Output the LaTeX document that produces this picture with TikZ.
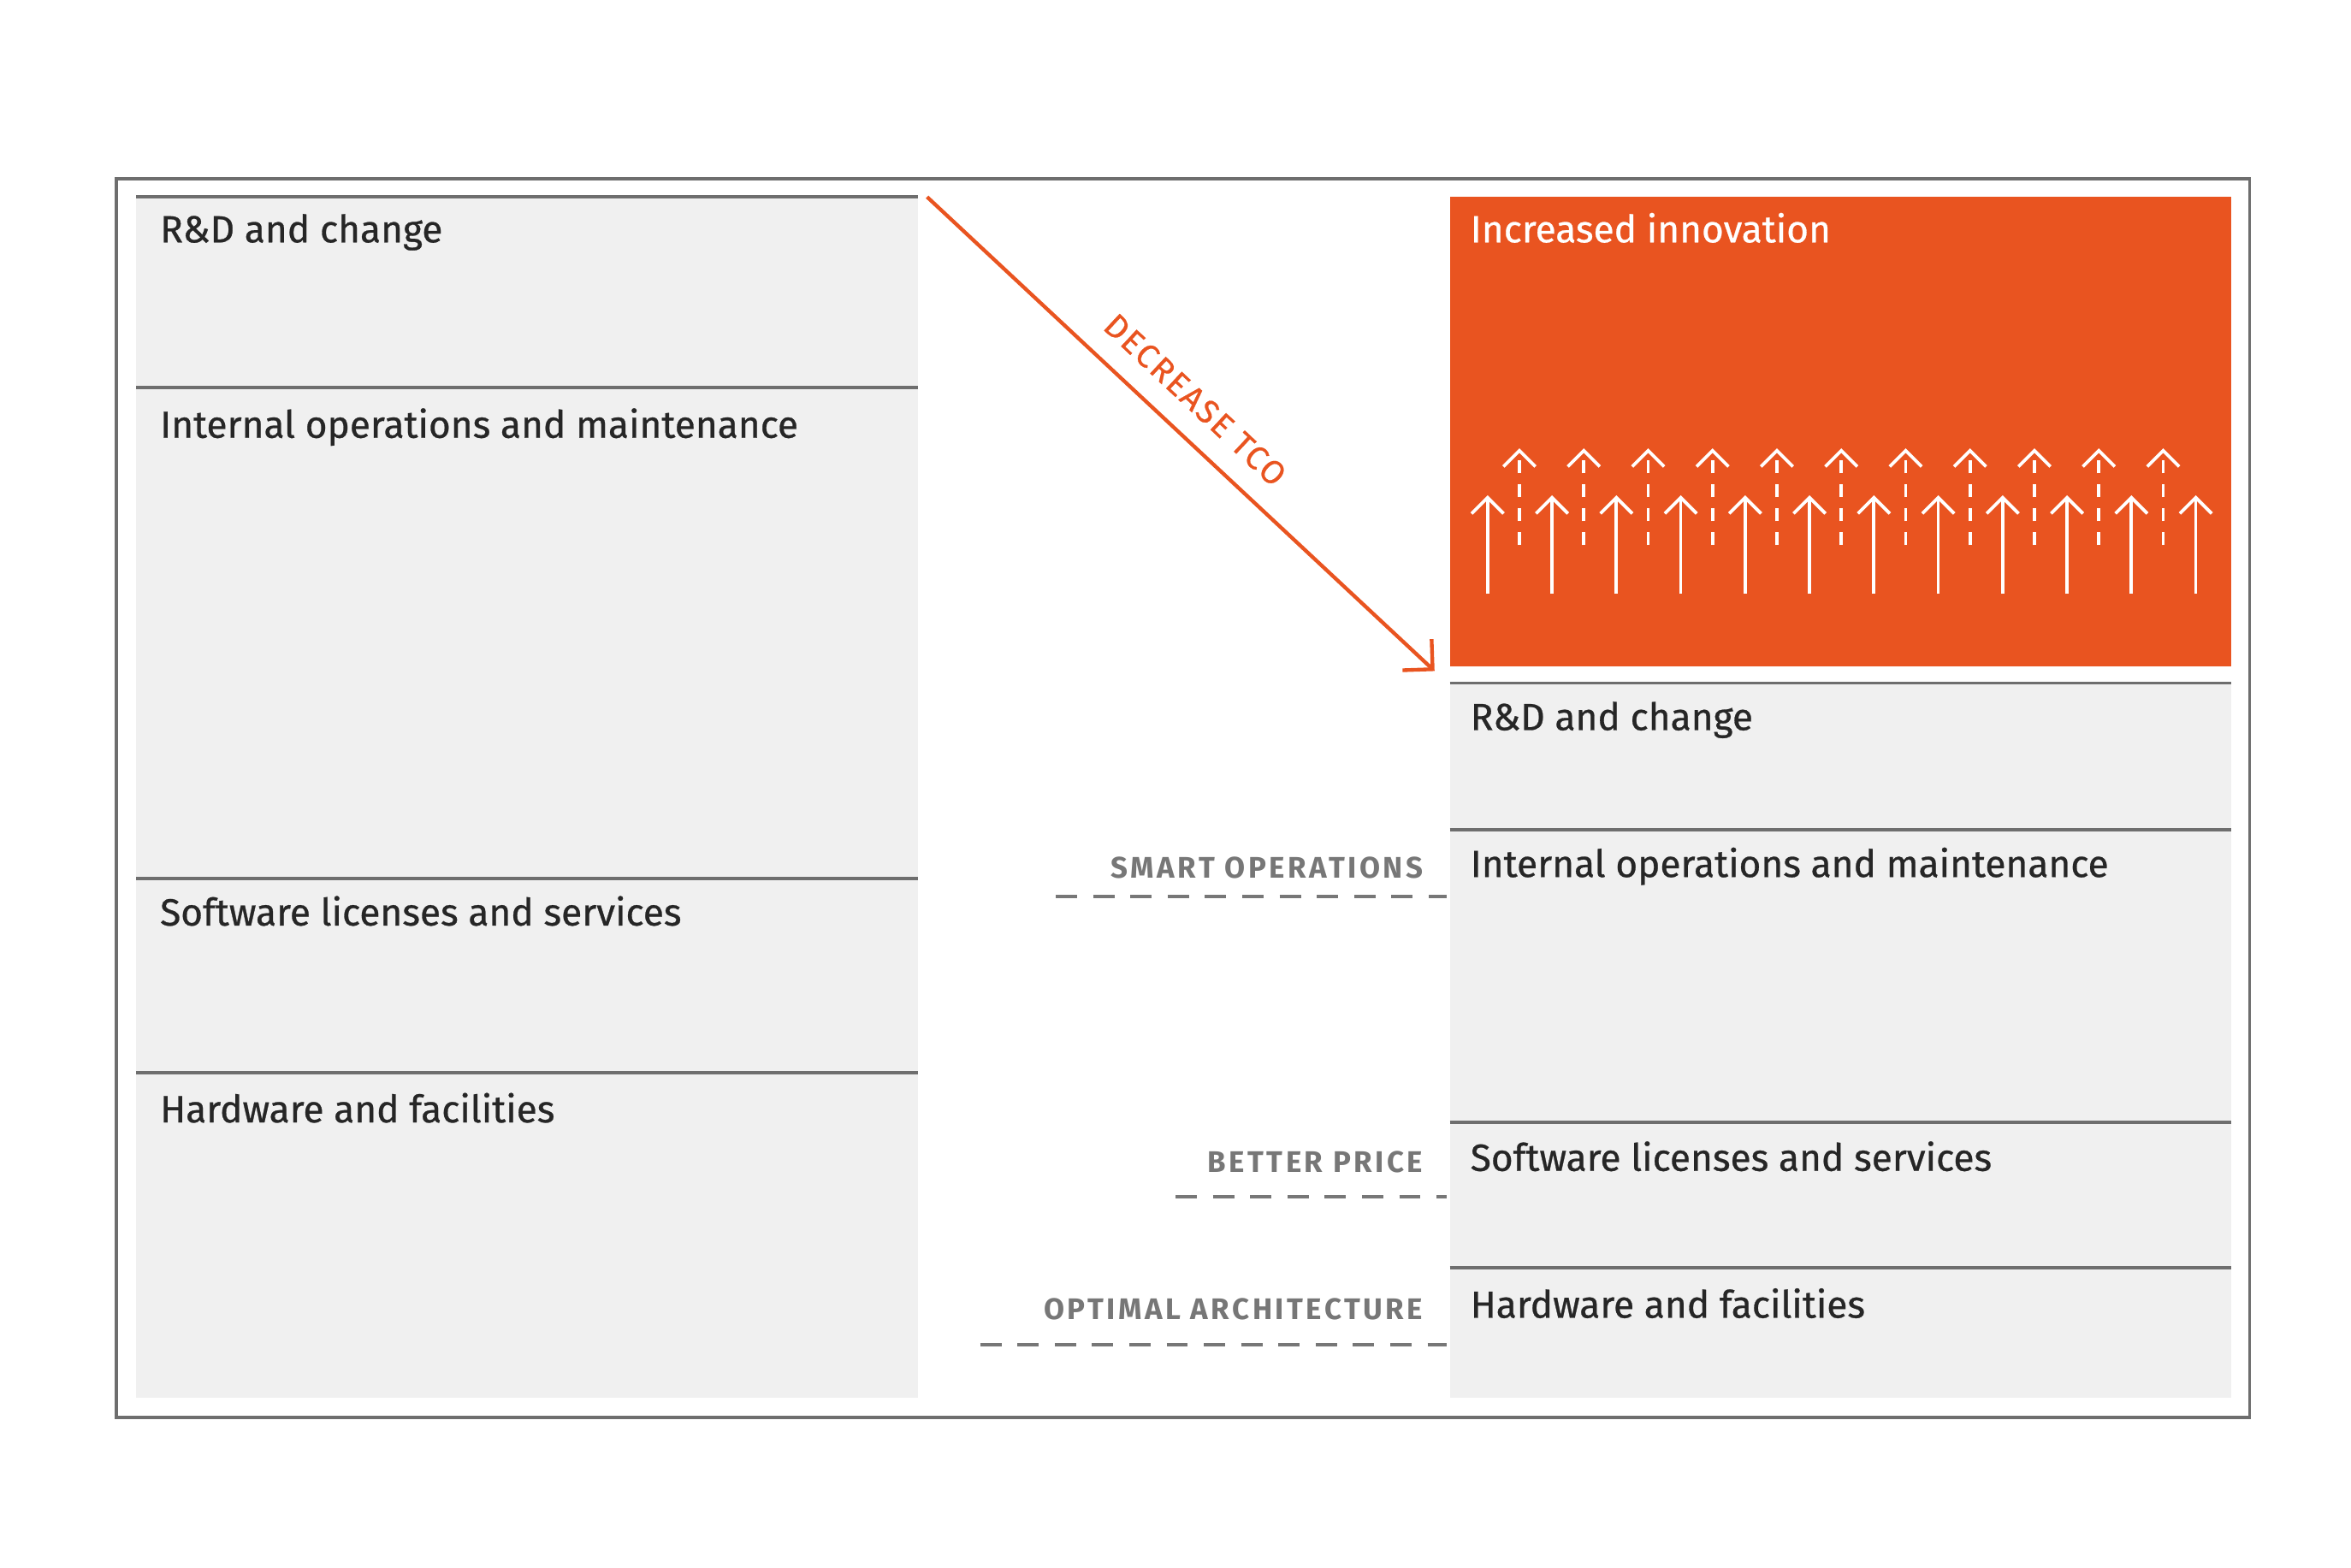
\documentclass[tikz,border=0pt]{standalone}
\usepackage{fontspec}
\setmainfont{Fira Sans}
\usetikzlibrary{arrows.meta}
\definecolor{org}{HTML}{E95420}
\definecolor{bx}{HTML}{F0F0F0}
\definecolor{ln}{HTML}{6E6E6E}
\definecolor{lab}{HTML}{777777}
\begin{document}
\begin{tikzpicture}[x=0.01cm,y=-0.01cm,
  box/.style={fill=bx},
  sep/.style={draw=ln,line width=0.6pt},
  txt/.style={anchor=base west,inner sep=0pt,font=\fontsize{7.1}{8}\selectfont\addfontfeatures{FakeBold=0.6},text=black!85},
  side/.style={anchor=base east,inner sep=0pt,font=\fontsize{5.6}{7}\selectfont\bfseries\addfontfeatures{LetterSpace=10},text=lab},
  dsh/.style={draw=lab,dashed,line width=0.6pt,dash pattern=on 4pt off 3pt},
  up/.style={draw=white,line width=0.6pt,-{Straight Barb[length=3pt,width=6pt]}}]
\useasboundingbox (0,0) rectangle (1552,1035);
\draw[ln,line width=0.6pt] (77,118) rectangle (1485,936);
% left
\fill[box] (90,130) rectangle (606,923);
\foreach \y in {130,256,580,708} \draw[sep] (90,\y) -- (606,\y);
\node[txt] (l1) at (105,160) {R\&D and change};
\node[txt] (l2) at (105,289) {Internal operations and maintenance};
\node[txt] (l3) at (105,611) {Software licenses and services};
\node[txt] (l4) at (105,741) {Hardware and facilities};
% right
\fill[org] (957,130) rectangle (1473,440);
\fill[box] (957,451) rectangle (1473,923);
\foreach \y in {451,548,741,837} \draw[sep] (957,\y) -- (1473,\y);
\node[txt,text=white] (r0) at (970,160) {Increased innovation};
\node[txt] (r1) at (970,482) {R\&D and change};
\node[txt] (r2) at (970,579) {Internal operations and maintenance};
\node[txt] (r3) at (970,773) {Software licenses and services};
\node[txt] (r4) at (970,870) {Hardware and facilities};
\foreach \i in {0,...,11} \draw[up] ({982+\i*42.5},392) -- ({982+\i*42.5},327);
\foreach \i in {0,...,10} \draw[up,dash pattern=on 2.5pt off 2pt] ({1003+\i*42.5},360) -- ({1003+\i*42.5},296);
% arrow
\coordinate (a0) at (612,130);
\coordinate (a1) at (947,443);
\draw[org,line width=0.7pt,-{Straight Barb[length=4pt,width=8pt]}] (a0) -- (a1);
\node[rotate=-43,inner sep=0pt,font=\fontsize{6.2}{7}\selectfont\addfontfeatures{LetterSpace=6,FakeBold=0.6},text=org] (dt) at (789,264) {DECREASE TCO};
% side labels
\node[side] (s1) at (940,580) {SMART OPERATIONS};
\node[side] (s2) at (940,774) {BETTER PRICE};
\node[side] (s3) at (940,871) {OPTIMAL ARCHITECTURE};
\coordinate (d1a) at (697,592); \coordinate (d1b) at (955,592);
\coordinate (d2a) at (776,790); \coordinate (d2b) at (955,790);
\coordinate (d3a) at (647,888); \coordinate (d3b) at (955,888);
\draw[dsh] (d1a) -- (d1b); \draw[dsh] (d2a) -- (d2b); \draw[dsh] (d3a) -- (d3b);
\end{tikzpicture}
\end{document}
